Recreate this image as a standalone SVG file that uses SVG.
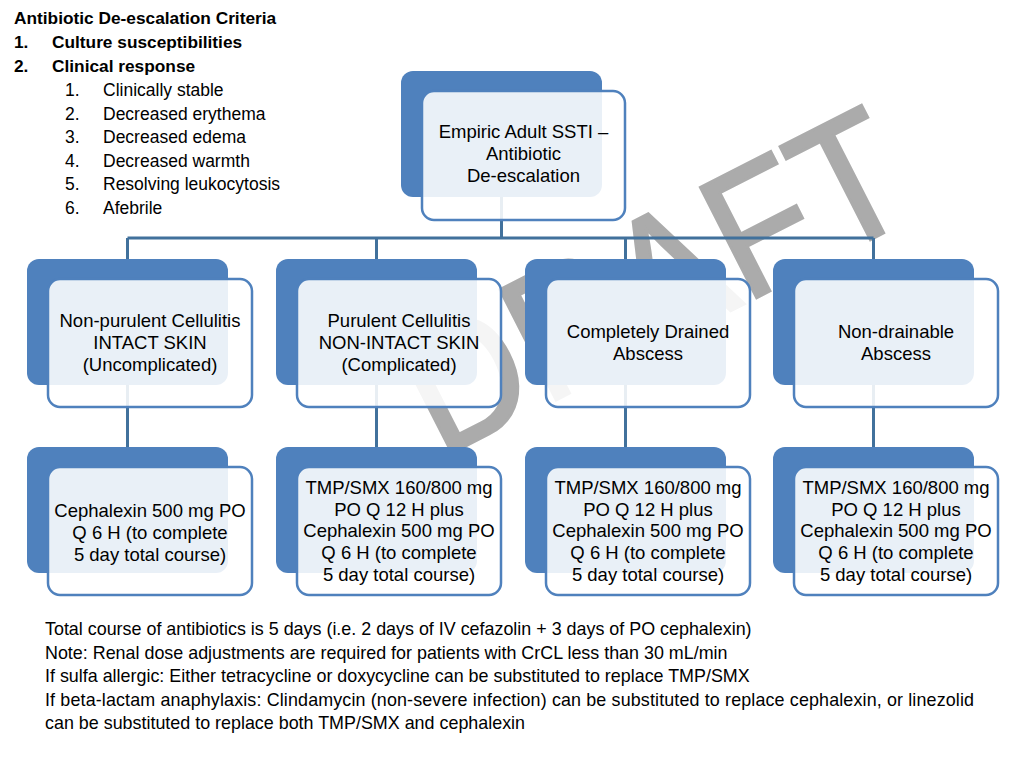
<svg xmlns="http://www.w3.org/2000/svg" width="1024" height="768" viewBox="0 0 1024 768">
<style>
.bk{fill:#4F81BD;}
.fr{fill:#ffffff;fill-opacity:0.88;stroke:#4F81BD;stroke-width:2.5;}
.conn{stroke:#41719C;stroke-width:3;fill:none;}
.nt{font-family:"Liberation Sans",Arial,sans-serif;font-size:18.5px;fill:#000;text-anchor:middle;}
.lt{font-family:"Liberation Sans",Arial,sans-serif;font-size:17.5px;fill:#000;}
.nb{font-family:"Liberation Sans",Arial,sans-serif;font-size:17.9px;fill:#000;}
.lb{font-family:"Liberation Sans",Arial,sans-serif;font-size:17.3px;font-weight:bold;fill:#000;}
.wm{font-family:"Liberation Sans",Arial,sans-serif;font-size:180px;fill:#ABABAB;stroke:#ABABAB;stroke-width:3;}
</style>
<rect width="1024" height="768" fill="#ffffff"/>
<g id="watermark">
<text class="wm" transform="translate(440,459) rotate(-27) scale(0.9,1)">DRAFT</text>
</g>
<g id="connectors">
<line class="conn" x1="501.5" y1="197" x2="501.5" y2="238"/>
<line class="conn" x1="127.5" y1="238" x2="873.5" y2="238"/>
<line class="conn" x1="127.5" y1="238" x2="127.5" y2="259"/>
<line class="conn" x1="376.5" y1="238" x2="376.5" y2="259"/>
<line class="conn" x1="625.5" y1="238" x2="625.5" y2="259"/>
<line class="conn" x1="873.5" y1="238" x2="873.5" y2="259"/>
<line class="conn" x1="127.5" y1="385" x2="127.5" y2="447"/>
<line class="conn" x1="376.5" y1="385" x2="376.5" y2="447"/>
<line class="conn" x1="625.5" y1="385" x2="625.5" y2="447"/>
<line class="conn" x1="873.5" y1="385" x2="873.5" y2="447"/>
</g>
<g id="node-root">
<rect class="bk" x="401" y="71" width="201" height="126" rx="12"/>
<rect class="fr" x="422" y="91" width="203" height="129" rx="12"/>
<text class="nt" x="523.5" y="138">Empiric Adult SSTI –</text>
<text class="nt" x="523.5" y="160">Antibiotic</text>
<text class="nt" x="523.5" y="182">De-escalation</text>
</g>
<g id="node-nonpurulent">
<rect class="bk" x="27" y="259" width="201" height="126" rx="12"/>
<rect class="fr" x="48" y="279" width="204" height="128" rx="12"/>
<text class="nt" x="150" y="327">Non-purulent Cellulitis</text>
<text class="nt" x="150" y="349">INTACT SKIN</text>
<text class="nt" x="150" y="371">(Uncomplicated)</text>
</g>
<g id="node-purulent">
<rect class="bk" x="276" y="259" width="201" height="126" rx="12"/>
<rect class="fr" x="297" y="279" width="204" height="128" rx="12"/>
<text class="nt" x="399" y="327">Purulent Cellulitis</text>
<text class="nt" x="399" y="349">NON-INTACT SKIN</text>
<text class="nt" x="399" y="371">(Complicated)</text>
</g>
<g id="node-drained">
<rect class="bk" x="525" y="259" width="201" height="126" rx="12"/>
<rect class="fr" x="546" y="279" width="204" height="128" rx="12"/>
<text class="nt" x="648" y="338">Completely Drained</text>
<text class="nt" x="648" y="360">Abscess</text>
</g>
<g id="node-nondrainable">
<rect class="bk" x="773" y="259" width="201" height="126" rx="12"/>
<rect class="fr" x="794" y="279" width="204" height="128" rx="12"/>
<text class="nt" x="896" y="338">Non-drainable</text>
<text class="nt" x="896" y="360">Abscess</text>
</g>
<g id="node-tx1">
<rect class="bk" x="27" y="447" width="201" height="126" rx="12"/>
<rect class="fr" x="48" y="467" width="204" height="128" rx="12"/>
<text class="nt" x="150" y="517">Cephalexin 500 mg PO</text>
<text class="nt" x="150" y="539">Q 6 H (to complete</text>
<text class="nt" x="150" y="561">5 day total course)</text>
</g>
<g id="node-tx2">
<rect class="bk" x="276" y="447" width="201" height="126" rx="12"/>
<rect class="fr" x="297" y="467" width="204" height="128" rx="12"/>
<text class="nt" x="399" y="494">TMP/SMX 160/800 mg</text>
<text class="nt" x="399" y="516">PO Q 12 H plus</text>
<text class="nt" x="399" y="537">Cephalexin 500 mg PO</text>
<text class="nt" x="399" y="559">Q 6 H (to complete</text>
<text class="nt" x="399" y="581">5 day total course)</text>
</g>
<g id="node-tx3">
<rect class="bk" x="525" y="447" width="201" height="126" rx="12"/>
<rect class="fr" x="546" y="467" width="204" height="128" rx="12"/>
<text class="nt" x="648" y="494">TMP/SMX 160/800 mg</text>
<text class="nt" x="648" y="516">PO Q 12 H plus</text>
<text class="nt" x="648" y="537">Cephalexin 500 mg PO</text>
<text class="nt" x="648" y="559">Q 6 H (to complete</text>
<text class="nt" x="648" y="581">5 day total course)</text>
</g>
<g id="node-tx4">
<rect class="bk" x="773" y="447" width="201" height="126" rx="12"/>
<rect class="fr" x="794" y="467" width="204" height="128" rx="12"/>
<text class="nt" x="896" y="494">TMP/SMX 160/800 mg</text>
<text class="nt" x="896" y="516">PO Q 12 H plus</text>
<text class="nt" x="896" y="537">Cephalexin 500 mg PO</text>
<text class="nt" x="896" y="559">Q 6 H (to complete</text>
<text class="nt" x="896" y="581">5 day total course)</text>
</g>
<g id="criteria">
<text class="lb" x="14" y="24">Antibiotic De-escalation Criteria</text>
<text class="lb" x="14" y="48">1.</text>
<text class="lb" x="52" y="48">Culture susceptibilities</text>
<text class="lb" x="14" y="72">2.</text>
<text class="lb" x="52" y="72">Clinical response</text>
<text class="lt" x="65" y="96">1.</text>
<text class="lt" x="103" y="96">Clinically stable</text>
<text class="lt" x="65" y="119.5">2.</text>
<text class="lt" x="103" y="119.5">Decreased erythema</text>
<text class="lt" x="65" y="143">3.</text>
<text class="lt" x="103" y="143">Decreased edema</text>
<text class="lt" x="65" y="166.5">4.</text>
<text class="lt" x="103" y="166.5">Decreased warmth</text>
<text class="lt" x="65" y="190">5.</text>
<text class="lt" x="103" y="190">Resolving leukocytosis</text>
<text class="lt" x="65" y="213.5">6.</text>
<text class="lt" x="103" y="213.5">Afebrile</text>
</g>
<g id="notes">
<text class="nb" x="45" y="635">Total course of antibiotics is 5 days (i.e. 2 days of IV cefazolin + 3 days of PO cephalexin)</text>
<text class="nb" x="45" y="658.5">Note: Renal dose adjustments are required for patients with CrCL less than 30 mL/min</text>
<text class="nb" x="45" y="682">If sulfa allergic: Either tetracycline or doxycycline can be substituted to replace TMP/SMX</text>
<text class="nb" x="45" y="705.5" textLength="929" lengthAdjust="spacing">If beta-lactam anaphylaxis: Clindamycin (non-severe infection) can be substituted to replace cephalexin, or linezolid</text>
<text class="nb" x="45" y="729">can be substituted to replace both TMP/SMX and cephalexin</text>
</g>
</svg>
